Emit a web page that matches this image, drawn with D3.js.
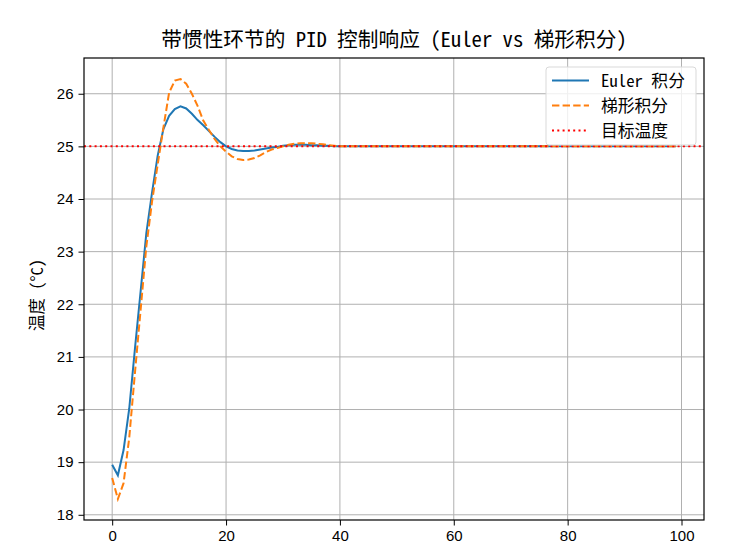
<!DOCTYPE html>
<html><head><meta charset="utf-8">
<script src="https://cdn.jsdelivr.net/npm/d3@7"></script>
<style>
body{margin:0;background:#fff;}
svg{display:block;}
.tick text{font-family:"Liberation Sans",Arial,sans-serif;font-size:15px;fill:#000;}
</style></head>
<body>
<script>
const title = "带惯性环节的 PID 控制响应 (Euler vs 梯形积分)";
const yLabel = "温度 (°C)";
const seriesNames = ["Euler 积分", "梯形积分", "目标温度"];
const target = 25;
const xTicks = [0, 20, 40, 60, 80, 100];
const yTicks = [18, 19, 20, 21, 22, 23, 24, 25, 26];

const eulerValues = [
 18.95, 18.75, 19.23, 20.02, 21.16, 22.25, 23.35, 24.12, 24.83, 25.33,
 25.58, 25.71, 25.76, 25.72, 25.62, 25.50, 25.40, 25.29, 25.18, 25.08,
 25.00, 24.95, 24.92, 24.91, 24.91, 24.92, 24.94, 24.96, 24.98, 24.99,
 25.01, 25.02, 25.03, 25.03, 25.03, 25.02, 25.02, 25.01, 25.01, 25.00,
 25.00, 25.00, 25.00, 25.00, 25.00, 25.00, 25.00, 25.00, 25.00, 25.00,
 25.00, 25.00, 25.00, 25.00, 25.00, 25.00, 25.00, 25.00, 25.00, 25.00,
 25.00, 25.00, 25.00, 25.00, 25.00, 25.00, 25.00, 25.00, 25.00, 25.00,
 25.00, 25.00, 25.00, 25.00, 25.00, 25.00, 25.00, 25.00, 25.00, 25.00,
 25.00, 25.00, 25.00, 25.00, 25.00, 25.00, 25.00, 25.00, 25.00, 25.00,
 25.00, 25.00, 25.00, 25.00, 25.00, 25.00, 25.00, 25.00, 25.00, 25.00
];
const trapValues = [
 18.70, 18.30, 18.60, 19.47, 20.70, 21.90, 23.10, 23.95, 24.66, 25.36,
 26.02, 26.25, 26.28, 26.19, 26.00, 25.77, 25.49, 25.31, 25.14, 25.00,
 24.90, 24.81, 24.76, 24.74, 24.75, 24.78, 24.83, 24.89, 24.94, 24.97,
 25.00, 25.03, 25.05, 25.06, 25.06, 25.06, 25.05, 25.04, 25.02, 25.01,
 25.00, 25.00, 25.00, 25.00, 25.00, 25.00, 25.00, 25.00, 25.00, 25.00,
 25.00, 25.00, 25.00, 25.00, 25.00, 25.00, 25.00, 25.00, 25.00, 25.00,
 25.00, 25.00, 25.00, 25.00, 25.00, 25.00, 25.00, 25.00, 25.00, 25.00,
 25.00, 25.00, 25.00, 25.00, 25.00, 25.00, 25.00, 25.00, 25.00, 25.00,
 25.00, 25.00, 25.00, 25.00, 25.00, 25.00, 25.00, 25.00, 25.00, 25.00,
 25.00, 25.00, 25.00, 25.00, 25.00, 25.00, 25.00, 25.00, 25.00, 25.00
];
const timeSteps = eulerValues.map((_, i) => i);

const W = 748, H = 550;
const m = {left: 84, right: 704, top: 58, bottom: 520};
const svg = d3.select("body").append("svg").attr("width", W).attr("height", H);

const xMin = 0, xMax = timeSteps.length - 1;
const xPad = (xMax - xMin) * 0.05;
const x = d3.scaleLinear().domain([xMin - xPad, xMax + xPad]).range([m.left, m.right]);
const allY = eulerValues.concat(trapValues);
const yLo = d3.min(allY), yHi = d3.max(allY), yPad = (yHi - yLo) * 0.05;
const y = d3.scaleLinear().domain([yLo - yPad, yHi + yPad]).range([m.bottom, m.top]);

// grid
const g = svg.append("g");
g.selectAll(".gx").data(xTicks).enter().append("line")
 .attr("x1", d => x(d)).attr("x2", d => x(d)).attr("y1", m.top).attr("y2", m.bottom)
 .attr("stroke", "#b0b0b0").attr("stroke-width", 1);
g.selectAll(".gy").data(yTicks).enter().append("line")
 .attr("y1", d => y(d)).attr("y2", d => y(d)).attr("x1", m.left).attr("x2", m.right)
 .attr("stroke", "#b0b0b0").attr("stroke-width", 1);

const line = d3.line().x((d, i) => x(timeSteps[i])).y(d => y(d));
const clip = svg.append("clipPath").attr("id", "c").append("rect")
 .attr("x", m.left).attr("y", m.top).attr("width", m.right - m.left).attr("height", m.bottom - m.top);
const plot = svg.append("g").attr("clip-path", "url(#c)");

plot.append("path").datum(eulerValues).attr("d", line)
 .attr("fill", "none").attr("stroke", "#1f77b4").attr("stroke-width", 2);
plot.append("path").datum(trapValues).attr("d", line)
 .attr("fill", "none").attr("stroke", "#ff7f0e").attr("stroke-width", 2)
 .attr("stroke-dasharray", "7.4,3.2");
plot.append("line").attr("x1", m.left).attr("x2", m.right)
 .attr("y1", y(target)).attr("y2", y(target))
 .attr("stroke", "#ff0000").attr("stroke-width", 2).attr("stroke-dasharray", "2,3.3");

// axes
const xAxis = d3.axisBottom(x).tickValues(xTicks).tickSize(5.5).tickPadding(5).tickFormat(d3.format("d"));
const yAxis = d3.axisLeft(y).tickValues(yTicks).tickSize(5.5).tickPadding(5).tickFormat(d3.format("d"));
const gx = svg.append("g").attr("transform", `translate(0,${m.bottom})`).call(xAxis);
const gy = svg.append("g").attr("transform", `translate(${m.left},0)`).call(yAxis);
[gx, gy].forEach(a => { a.select(".domain").remove(); a.selectAll(".tick line").attr("stroke", "#000").attr("stroke-width", 1); });

svg.append("rect").attr("x", m.left).attr("y", m.top).attr("width", m.right - m.left).attr("height", m.bottom - m.top)
 .attr("fill", "none").attr("stroke", "#000").attr("stroke-width", 1.2);

const cjk = '"Noto Sans Mono CJK SC","DejaVu Sans Mono","Noto Sans CJK SC",monospace';
svg.append("text").attr("x", (m.left + m.right) / 2).attr("y", 47).attr("text-anchor", "middle")
 .style("font-family", cjk).style("font-size", "20.7px").text(title);
svg.append("text").attr("transform", `translate(43,295) rotate(-90)`)
 .attr("text-anchor", "middle").style("font-family", cjk).style("font-size", "16.5px").text(yLabel);

// legend
const lg = svg.append("g");
lg.append("rect").attr("x", 546).attr("y", 67).attr("width", 150).attr("height", 78).attr("rx", 3)
 .attr("fill", "#fff").attr("fill-opacity", 0.8).attr("stroke", "#d9d9d9").attr("stroke-width", 1);
const styles = [
 {c: "#1f77b4", d: null},
 {c: "#ff7f0e", d: "7.4,3.2"},
 {c: "#ff0000", d: "2,3.3"}
];
seriesNames.forEach((n, i) => {
 const yy = 80.5 + i * 25;
 const l = lg.append("line").attr("x1", 552).attr("x2", 589).attr("y1", yy).attr("y2", yy)
  .attr("stroke", styles[i].c).attr("stroke-width", 2);
 if (styles[i].d) l.attr("stroke-dasharray", styles[i].d);
 lg.append("text").attr("x", 601).attr("y", yy + 6).style("font-family", cjk).style("font-size", "16.8px").text(n);
});
</script>
</body></html>
